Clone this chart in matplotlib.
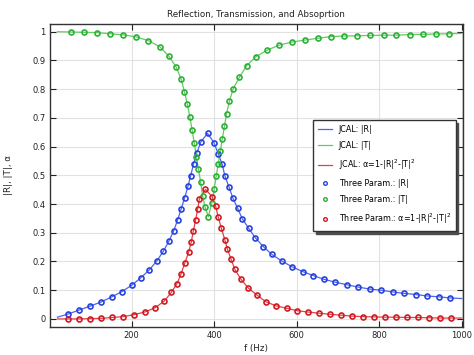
import numpy as np
import matplotlib.pyplot as plt

# Three Param. markers
f_R = [46, 73, 100, 126, 152, 176, 200, 222, 243, 261, 277, 290, 302, 311.5, 320, 328.5,
       336.5, 343, 350, 358, 368, 384, 399.5, 410, 419.5, 426, 436, 445, 457, 468, 483.5,
       499.5, 519, 539.5, 563.5, 588, 614.5, 640, 666, 693.5, 721, 749, 777, 804, 833, 860,
       888.5, 916, 944, 972]
R = [0.017, 0.031, 0.045, 0.059, 0.077, 0.095, 0.117, 0.143, 0.171, 0.202, 0.236, 0.270,
     0.307, 0.345, 0.383, 0.422, 0.462, 0.498, 0.540, 0.579, 0.617, 0.646, 0.614, 0.574,
     0.538, 0.498, 0.459, 0.422, 0.385, 0.349, 0.316, 0.283, 0.252, 0.225, 0.202, 0.182,
     0.165, 0.151, 0.138, 0.128, 0.119, 0.111, 0.104, 0.100, 0.094, 0.089, 0.085, 0.080,
     0.077, 0.073]

f_T = [53, 84, 116, 147, 180, 211, 240, 268, 290, 308, 320, 328, 335, 341, 346.5, 352, 357,
       362, 367, 372, 378, 386, 394, 400, 405, 410, 415, 420, 425, 430, 437, 446, 461, 479,
       501, 529, 557, 589, 620, 651, 683, 715, 747, 778, 811, 842, 874, 906, 938, 970]
T = [0.999, 0.998, 0.997, 0.993, 0.989, 0.982, 0.969, 0.948, 0.915, 0.877, 0.835, 0.791,
     0.747, 0.704, 0.658, 0.611, 0.565, 0.522, 0.478, 0.429, 0.389, 0.356, 0.403, 0.451,
     0.497, 0.541, 0.585, 0.628, 0.671, 0.714, 0.758, 0.801, 0.841, 0.882, 0.913, 0.936,
     0.953, 0.964, 0.971, 0.977, 0.983, 0.985, 0.986, 0.987, 0.988, 0.988, 0.990, 0.991,
     0.992, 0.993]

f_A = [46, 73, 100, 126, 153, 180, 206, 232, 257, 279, 296, 310, 320, 329, 338, 344.5,
       349.5, 355, 360, 364, 379, 395, 403.5, 410, 417, 426, 432, 441, 450, 465, 483, 503,
       525, 549, 576, 600, 627, 654, 681, 707, 733, 760, 787, 814, 841, 867, 894, 921, 948,
       974]
A = [0.000, 0.000, 0.001, 0.002, 0.005, 0.008, 0.015, 0.024, 0.039, 0.062, 0.092, 0.123,
     0.158, 0.195, 0.232, 0.268, 0.306, 0.344, 0.382, 0.417, 0.451, 0.426, 0.393, 0.354,
     0.318, 0.275, 0.243, 0.208, 0.173, 0.138, 0.107, 0.084, 0.060, 0.046, 0.037, 0.029,
     0.024, 0.020, 0.016, 0.013, 0.010, 0.008, 0.007, 0.006, 0.006, 0.005, 0.005, 0.004,
     0.003, 0.003]

# JCAL curve end points (the rest of the curve runs under the markers)
f_ends = [20, 1000]
R_ends = [0.006, 0.071]
T_ends = [1.0, 0.994]
A_ends = [0.0, 0.003]

xticks = [200, 400, 600, 800, 1000]
yticks = [0, 0.1, 0.2, 0.3, 0.4, 0.5, 0.6, 0.7, 0.8, 0.9, 1]
ytick_labels = ['0', '0.1', '0.2', '0.3', '0.4', '0.5', '0.6', '0.7', '0.8', '0.9', '1']


def jcal_line(f_pts, v_pts, ends_v):
    f = np.concatenate(([f_ends[0]], f_pts, [f_ends[1]]))
    v = np.concatenate(([ends_v[0]], v_pts, [ends_v[1]]))
    return f, v


plt.rcParams['font.family'] = 'DejaVu Sans'
plt.rcParams['mathtext.fontset'] = 'dejavusans'

fig = plt.figure(figsize=(4.74, 3.55), dpi=100)
ax = fig.add_axes([0.1055, 0.079, 0.871, 0.8535])

blue_l, blue_m = '#4f63f0', '#2743dc'
green_l, green_m = '#5ccf5c', '#2fae3a'
red_l, red_m = '#e2404a', '#cf1b22'

ax.plot(*jcal_line(f_R, R, R_ends), color=blue_l, lw=0.9, label='JCAL: |R|')
ax.plot(*jcal_line(f_T, T, T_ends), color=green_l, lw=0.9, label='JCAL: |T|')
ax.plot(*jcal_line(f_A, A, A_ends), color=red_l, lw=0.9,
        label='JCAL: α=1-|R|$^2$-|T|$^2$')

mk = dict(ls='none', marker='o', ms=3.6, mew=1.2, mfc='none')
ax.plot(f_R, R, mec=blue_m, label='Three Param.: |R|', **mk)
ax.plot(f_T, T, mec=green_m, label='Three Param.: |T|', **mk)
ax.plot(f_A, A, mec=red_m, label='Three Param.: α=1-|R|$^2$-|T|$^2$', **mk)

ax.set_xlim(2, 1003)
ax.set_ylim(-0.028, 1.027)
ax.set_xticks(xticks)
ax.set_yticks(yticks)
ax.set_yticklabels(ytick_labels)
ax.tick_params(direction='in', top=True, right=True, length=4, width=0.8,
               labelsize=6, pad=3, colors='#222222')
ax.grid(color='#e2e2e2', lw=0.8)
ax.set_axisbelow(True)
for s in ax.spines.values():
    s.set_color('#333333')
    s.set_linewidth(1.0)

ax.set_title('Reflection, Transmission, and Absoprtion', fontsize=6.3, pad=5, color='#222222')
ax.set_xlabel('f (Hz)', fontsize=6.3, labelpad=3, color='#222222')
ax.set_ylabel('|R|, |T|, α', fontsize=6.3, labelpad=14, color='#222222')

leg = ax.legend(loc='upper left', bbox_to_anchor=(0.637, 0.683), fontsize=5.8,
                frameon=True, fancybox=False, framealpha=1, edgecolor='#333333',
                shadow={'color': '0.3', 'alpha': 1}, handlelength=1.8,
                borderpad=0.6, labelspacing=0.9, handletextpad=0.8, borderaxespad=0)
leg.get_frame().set_linewidth(1.0)
for h in leg.legend_handles[3:]:
    h.set_markersize(2.6)
    h.set_markeredgewidth(1.0)

fig.savefig('out.png', dpi=100)
